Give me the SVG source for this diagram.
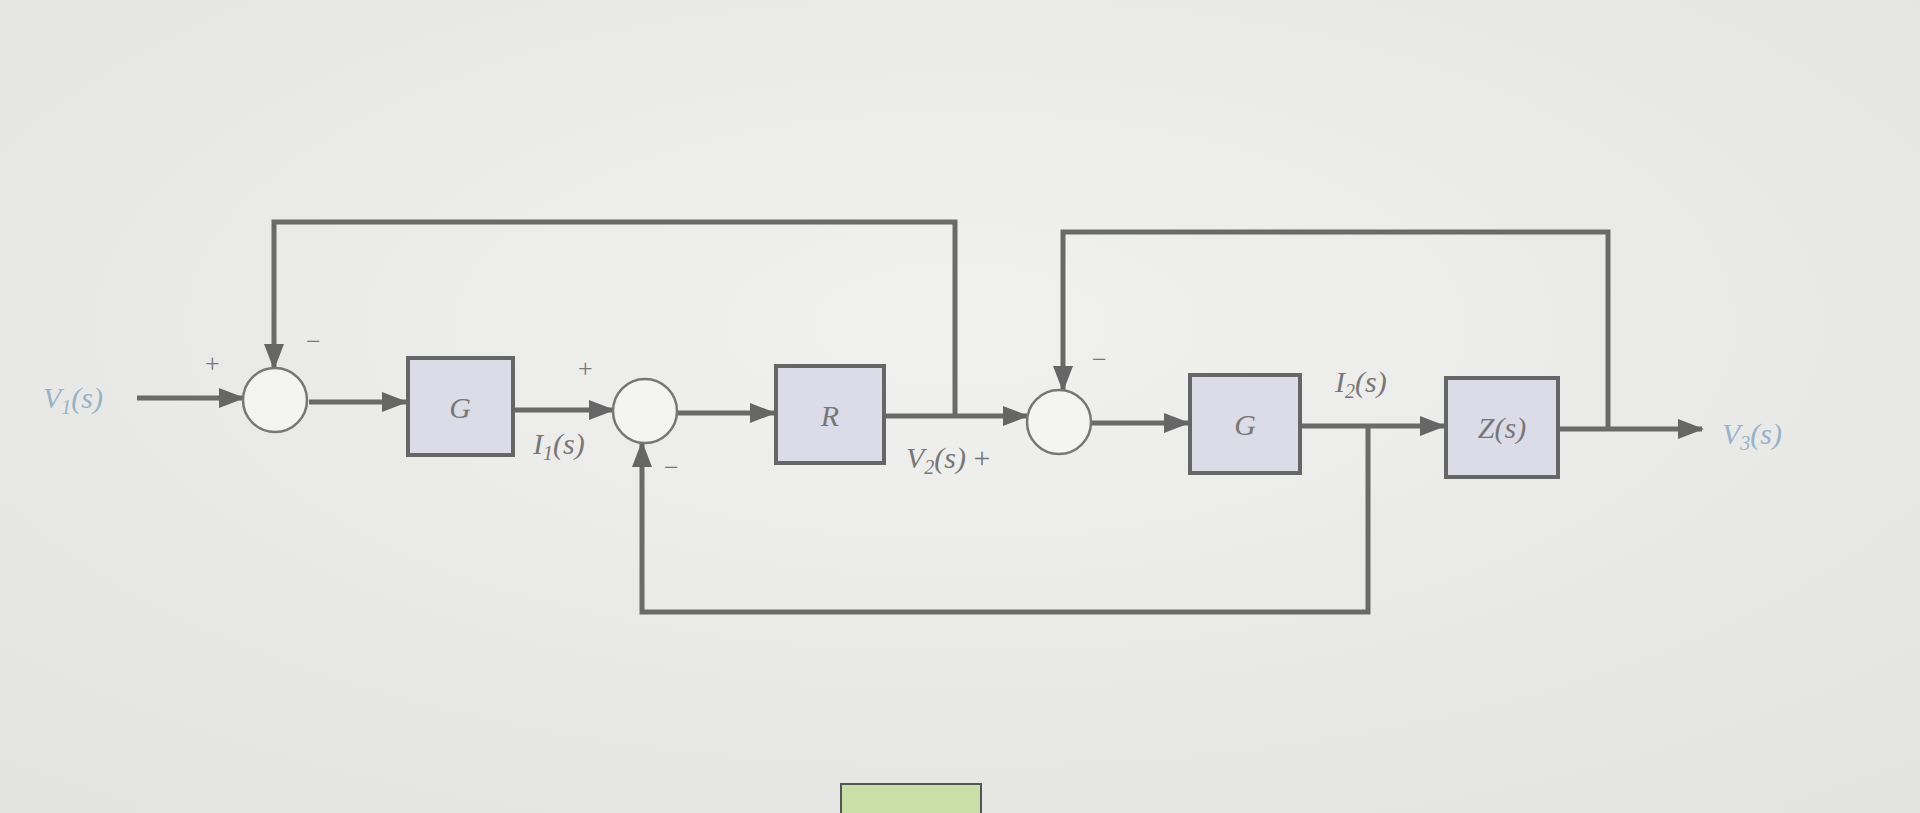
<svg xmlns="http://www.w3.org/2000/svg" width="1920" height="813" viewBox="0 0 1920 813">
<defs>
<marker id="ah" markerWidth="26" markerHeight="20" refX="24" refY="10" orient="auto" markerUnits="userSpaceOnUse" viewBox="0 0 26 20"><path d="M0,0 L26,10 L0,20 z" fill="#666"/></marker>
<radialGradient id="bg" cx="0.5" cy="0.4" r="0.8"><stop offset="0" stop-color="#f1f1ef"/><stop offset="1" stop-color="#e2e2e0"/></radialGradient>
</defs>
<style>
.w{fill:none;stroke:#6a6a6a;stroke-width:5}
.a{marker-end:url(#ah)}
.box{fill:#dcdbe8;stroke:#666;stroke-width:4}
.sum{fill:#f4f4f2;stroke:#777;stroke-width:2.5}
.t{font-family:"Liberation Serif",serif;font-style:italic;font-size:30px;fill:#777}
.s{font-family:"Liberation Serif",serif;font-size:26px;fill:#777}
.io{fill:#98b2c8}
</style>
<rect width="1920" height="813" fill="url(#bg)"/>
<g id="connectors">
<path class="w a" d="M137,398 H243"/>
<path class="w a" d="M955,414 V222 H274 V368"/>
<path class="w a" d="M309,402 H406"/>
<path class="w a" d="M513,410 H613"/>
<path class="w a" d="M1368,426 V612 H642 V443"/>
<path class="w a" d="M677,413 H774"/>
<path class="w a" d="M884,416 H1027"/>
<path class="w a" d="M1608,429 V232 H1063 V390"/>
<path class="w a" d="M1091,423 H1188"/>
<path class="w a" d="M1300,426 H1444"/>
<path class="w a" d="M1558,429 H1702"/>
</g>
<g id="sum1"><circle class="sum" cx="275" cy="400" r="32"/><text class="s" x="205" y="372">+</text><text class="s" x="306" y="350">−</text></g>
<g id="G1"><rect class="box" x="408" y="358" width="105" height="97"/><text class="t" x="460" y="418" text-anchor="middle">G</text></g>
<g id="sum2"><circle class="sum" cx="645" cy="411" r="32"/><text class="s" x="578" y="377">+</text><text class="s" x="664" y="476">−</text></g>
<g id="R"><rect class="box" x="776" y="366" width="108" height="97"/><text class="t" x="830" y="426" text-anchor="middle">R</text></g>
<g id="sum3"><circle class="sum" cx="1059" cy="422" r="32"/><text class="s" x="1092" y="368">−</text></g>
<g id="G2"><rect class="box" x="1190" y="375" width="110" height="98"/><text class="t" x="1245" y="435" text-anchor="middle">G</text></g>
<g id="Z"><rect class="box" x="1446" y="378" width="112" height="99"/><text class="t" x="1502" y="438" text-anchor="middle">Z(s)</text></g>
<g id="labels">
<text class="t io" x="43" y="408">V<tspan font-size="20" dy="6">1</tspan><tspan dy="-6">(s)</tspan></text>
<text class="t" x="533" y="454">I<tspan font-size="20" dy="6">1</tspan><tspan dy="-6">(s)</tspan></text>
<text class="t" x="906" y="468">V<tspan font-size="20" dy="6">2</tspan><tspan dy="-6">(s)</tspan><tspan font-style="normal"> +</tspan></text>
<text class="t" x="1335" y="392">I<tspan font-size="20" dy="6">2</tspan><tspan dy="-6">(s)</tspan></text>
<text class="t io" x="1722" y="444">V<tspan font-size="20" dy="6">3</tspan><tspan dy="-6">(s)</tspan></text>
</g>
<rect x="841" y="784" width="140" height="40" fill="#c8e0a8" stroke="#555" stroke-width="2"/>
</svg>
